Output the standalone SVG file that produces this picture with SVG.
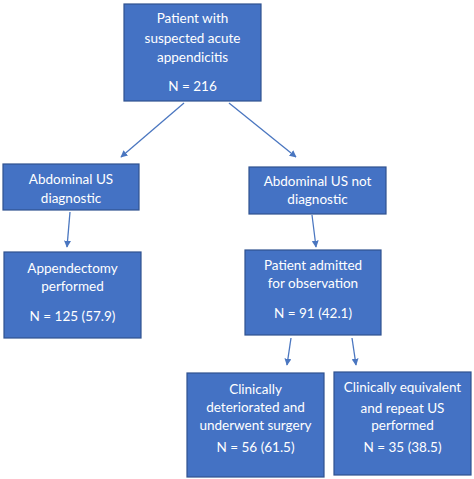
<svg xmlns="http://www.w3.org/2000/svg" width="474" height="479" viewBox="0 0 474 479">
  <defs>
    <style>
      .box { fill: #4472C4; stroke: #2F528F; stroke-width: 1.2; }
      .lbl { fill: #FFFFFF; font-family: "Lato", "Open Sans", "Liberation Sans", sans-serif; font-size: 13.5px; text-anchor: middle; }
      .edge { stroke: #4A76C0; stroke-width: 1.3; fill: none; marker-end: url(#head); }
    </style>
    <marker id="head" viewBox="0 0 10 10" refX="9" refY="5" markerWidth="7" markerHeight="7" markerUnits="userSpaceOnUse" orient="auto">
      <path d="M0,0 L10,5 L0,10 z" fill="#4A76C0"/>
    </marker>
  </defs>
  <rect width="474" height="479" fill="#FFFFFF"/>

  <g id="connectors">
    <line class="edge" x1="184" y1="103" x2="121" y2="157"/>
    <line class="edge" x1="229" y1="103" x2="296" y2="157"/>
    <line class="edge" x1="70" y1="212" x2="67" y2="247"/>
    <line class="edge" x1="312" y1="215" x2="316" y2="247"/>
    <line class="edge" x1="291" y1="338" x2="287" y2="365"/>
    <line class="edge" x1="352" y1="338" x2="356" y2="365"/>
  </g>

  <g id="patient">
    <rect class="box" x="124" y="4" width="137" height="97"/>
    <text class="lbl" x="192.5" y="23">Patient with</text>
    <text class="lbl" x="192.5" y="43">suspected acute</text>
    <text class="lbl" x="192.5" y="62">appendicitis</text>
    <text class="lbl" x="192.5" y="91">N = 216</text>
  </g>

  <g id="us-diagnostic">
    <rect class="box" x="3" y="164" width="136" height="46"/>
    <text class="lbl" x="71" y="184">Abdominal US</text>
    <text class="lbl" x="71" y="203">diagnostic</text>
  </g>

  <g id="us-not-diagnostic">
    <rect class="box" x="249" y="167" width="137" height="47"/>
    <text class="lbl" x="317.5" y="186">Abdominal US not</text>
    <text class="lbl" x="317.5" y="204">diagnostic</text>
  </g>

  <g id="appendectomy">
    <rect class="box" x="4" y="252" width="137" height="86"/>
    <text class="lbl" x="72.5" y="273">Appendectomy</text>
    <text class="lbl" x="72.5" y="291">performed</text>
    <text class="lbl" x="72.5" y="321">N = 125 (57.9)</text>
  </g>

  <g id="admitted">
    <rect class="box" x="245" y="250" width="136" height="85"/>
    <text class="lbl" x="313" y="270">Patient admitted</text>
    <text class="lbl" x="313" y="288">for observation</text>
    <text class="lbl" x="313" y="318">N = 91 (42.1)</text>
  </g>

  <g id="surgery">
    <rect class="box" x="187" y="373" width="137" height="104"/>
    <text class="lbl" x="255.5" y="394">Clinically</text>
    <text class="lbl" x="255.5" y="412">deteriorated and</text>
    <text class="lbl" x="255.5" y="430">underwent surgery</text>
    <text class="lbl" x="255.5" y="452">N = 56 (61.5)</text>
  </g>

  <g id="repeat-us">
    <rect class="box" x="334" y="372" width="137" height="103"/>
    <text class="lbl" x="402.5" y="392">Clinically equivalent</text>
    <text class="lbl" x="402.5" y="413">and repeat US</text>
    <text class="lbl" x="402.5" y="430">performed</text>
    <text class="lbl" x="402.5" y="452">N = 35 (38.5)</text>
  </g>
</svg>
